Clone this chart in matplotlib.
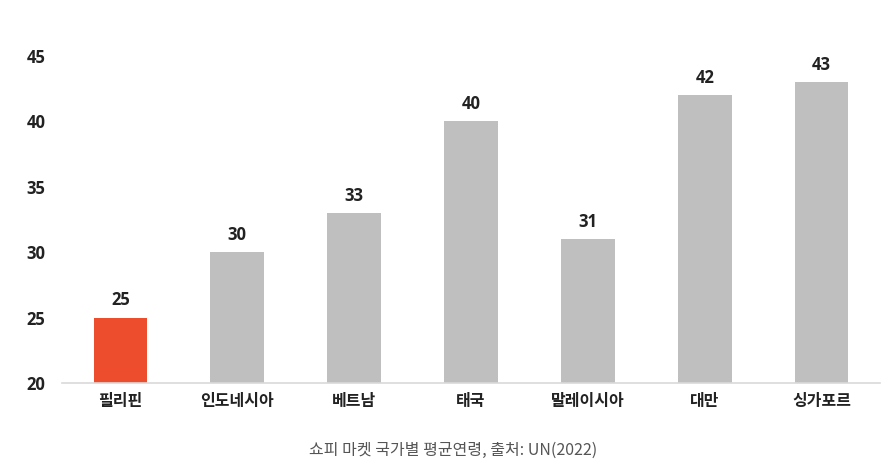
import matplotlib
matplotlib.use("Agg")
import matplotlib.pyplot as plt

countries = ["필리핀", "인도네시아", "베트남", "태국", "말레이시아", "대만", "싱가포르"]
ages = [25, 30, 33, 40, 31, 42, 43]
yticks = [20, 25, 30, 35, 40, 45]
caption = "쇼피 마켓 국가별 평균연령, 출처: UN(2022)"

plt.rcParams['font.family'] = ['Noto Sans CJK KR', 'DejaVu Sans']
numfont = ['Open Sans', 'Noto Sans CJK KR']

fig = plt.figure(figsize=(8.87, 4.73), dpi=100)
ax = fig.add_axes([62/887, 1-383/473, (880-62)/887, (383-56)/473])

colors = ['#EE4D2D'] + ['#BFBFBF'] * (len(ages) - 1)
x = range(len(countries))
bars = ax.bar(x, [a - 20 for a in ages], bottom=20, width=0.46, color=colors)

for xi, a in zip(x, ages):
    ax.annotate(str(a), (xi, a), xytext=(0, 6), textcoords='offset points',
                ha='center', va='bottom', fontsize=12, fontweight='bold',
                color='#222222', family=numfont)

ax.set_xlim(-0.5, len(ages) - 0.5)
ax.set_ylim(20, 45)
ax.set_yticks(yticks)
ax.set_yticklabels([str(t) for t in yticks], fontsize=12, fontweight='bold',
                   color='#222222', family=numfont)
ax.set_xticks(list(x))
ax.set_xticklabels(countries, fontsize=11.5, fontweight='bold', color='#222222')
ax.tick_params(axis='y', length=0, pad=12)
ax.tick_params(axis='x', length=0, pad=7)

for s in ['top', 'right', 'left']:
    ax.spines[s].set_visible(False)
ax.spines['bottom'].set_color('#D9D9D9')
ax.spines['bottom'].set_linewidth(1.2)

fig.text(453/887, 1-450/473, caption, ha='center', va='center', fontsize=11.5, color='#555555')

fig.savefig('out.png', dpi=100)
